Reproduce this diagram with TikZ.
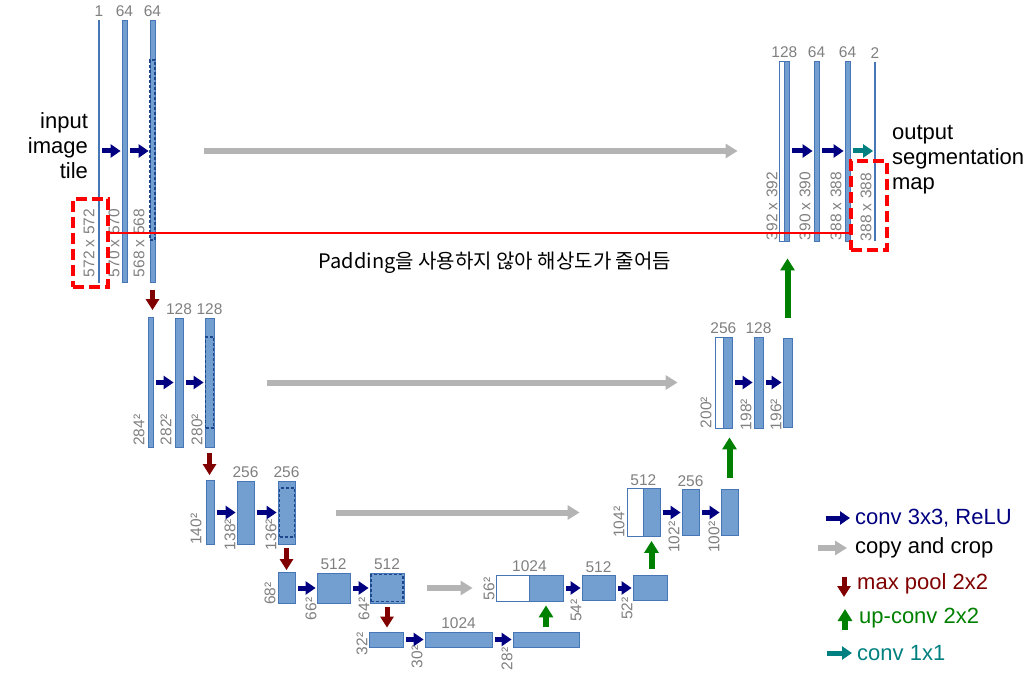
\documentclass[tikz,border=0pt]{standalone}
\usepackage{fontspec}
\setmainfont{Liberation Sans}
\newfontfamily\krfont{Noto Sans CJK KR}
\usetikzlibrary{positioning, arrows.meta}
\definecolor{barfill}{RGB}{114,159,207}
\definecolor{barline}{RGB}{70,118,182}
\definecolor{cropline}{RGB}{30,70,140}
\definecolor{numgray}{RGB}{128,128,128}
\definecolor{convblue}{RGB}{0,0,128}
\definecolor{copygray}{RGB}{180,180,180}
\definecolor{poolred}{RGB}{128,0,0}
\definecolor{upgreen}{RGB}{0,128,0}
\definecolor{finalteal}{RGB}{0,128,128}
\tikzset{
	fmap/.style 2 args={
		rectangle,
		draw=barline,
		fill=barfill,
		line width=0.8pt,
		inner sep=0pt,
		minimum width=#1,
		minimum height=#2,
	},
	fmapcopy/.style 2 args={
		fmap={#1}{#2},
		fill=white,
	},
	cropbox/.style 2 args={
		rectangle,
		draw=cropline,
		dash pattern=on 3pt off 2pt,
		line width=1.5pt,
		inner sep=0pt,
		minimum width=#1,
		minimum height=#2,
	},
	numlabel/.style={
		text=numgray,
		inner sep=1pt,
		font=\fontsize{15.5}{18}\selectfont,
	},
	dimlabel/.style={
		text=numgray,
		rotate=90,
		anchor=south west,
		inner sep=0pt,
		font=\fontsize{15.5}{18}\selectfont,
	},
	caption/.style={
		inner sep=0pt,
		font=\fontsize{22}{25}\selectfont,
	},
	legend/.style={
		anchor=west,
		inner sep=0pt,
		font=\fontsize{22}{25}\selectfont,
	},
	conv/.style={
		draw=convblue,
		line width=5pt,
		-{Triangle[length=10pt,width=13pt]},
		shorten <=2.5pt,
		shorten >=1pt,
	},
	conv1/.style={
		conv,
		draw=finalteal,
	},
	copycrop/.style={
		draw=copygray,
		line width=6pt,
		-{Triangle[length=12pt,width=14pt]},
	},
	pool/.style={
		draw=poolred,
		line width=5pt,
		-{Triangle[length=11pt,width=13pt]},
	},
	upconv/.style={
		draw=upgreen,
		line width=6pt,
		-{Triangle[length=12pt,width=14pt]},
	},
	padbox/.style={
		rectangle,
		draw=red,
		line width=3.5pt,
		dash pattern=on 11pt off 5pt,
		inner sep=0pt,
	},
	padline/.style={
		draw=red,
		line width=2.5pt,
	},
}
\begin{document}
\begin{tikzpicture}[x=1pt, y=-1pt]
		\useasboundingbox (0,0) rectangle (1036,682);
		% Contracting path
		\node[fmap={1}{262}] (e11) at (99,151) {};
		\node[fmap={5}{262}] (e12) at (124.5,151) {};
		\node[fmap={5}{262}] (e13) at (152.5,151) {};
		\node[cropbox={5}{180}] (c13) at (152.5,150) {};
		
		\node[fmap={5}{130}] (e21) at (150.5,382.5) {};
		\node[fmap={8}{129}] (e22) at (179,382.5) {};
		\node[fmap={9}{129}] (e23) at (209.5,382.5) {};
		\node[cropbox={8}{91}] (c23) at (209.5,382.5) {};
		
		\node[fmap={8}{64}] (e31) at (210,512.5) {};
		\node[fmap={17}{63}] (e32) at (245.5,512.5) {};
		\node[fmap={17}{63}] (e33) at (286.5,512.5) {};
		\node[cropbox={15}{49}] (c33) at (287,512.5) {};
		
		\node[fmap={17}{31}] (e41) at (286.5,588) {};
		\node[fmap={33}{30}] (e42) at (333.5,588) {};
		\node[fmap={34}{30}] (e43) at (387,588) {};
		\node[cropbox={32}{27}] (c43) at (387,588) {};
		
		\node[fmap={34}{15}] (e51) at (386,639.5) {};
		\node[fmap={67}{15}] (e52) at (458.5,639.5) {};
		\node[fmap={66}{15}] (e53) at (546,639.5) {};
		
		% Expansive path
		\node[fmapcopy={33}{26}] (d41w) at (512.5,588) {};
		\node[fmap={34}{26}] (d41) at (546,588) {};
		\node[fmap={33}{25}] (d42) at (598.5,588) {};
		\node[fmap={34}{25}] (d43) at (650,588) {};
		
		\node[fmapcopy={16}{48}] (d31w) at (635,512.5) {};
		\node[fmap={17}{48}] (d31) at (651.5,512.5) {};
		\node[fmap={17}{46}] (d32) at (690.5,512.5) {};
		\node[fmap={17}{46}] (d33) at (729.5,512.5) {};
		
		\node[fmapcopy={8}{91}] (d21w) at (719,382.5) {};
		\node[fmap={9}{91}] (d21) at (727.5,382.5) {};
		\node[fmap={9}{91}] (d22) at (758.5,382.5) {};
		\node[fmap={9}{89}] (d23) at (787.5,382.5) {};
		
		\node[fmapcopy={5}{180}] (d11w) at (781.5,151) {};
		\node[fmap={5}{180}] (d11) at (786.5,151) {};
		\node[fmap={5}{180}] (d12) at (816.5,151) {};
		\node[fmap={5}{180}] (d13) at (847.5,151) {};
		\node[fmap={1}{178}] (d14) at (875,151) {};
		
		% Channel numbers
		\node[numlabel, above=1.5pt of e11] {1};
		\node[numlabel, above=1.5pt of e12] {64};
		\node[numlabel, above=1.5pt of e13] {64};
		\node[numlabel, above=1.5pt of e22] {128};
		\node[numlabel, above=1.5pt of e23] {128};
		\node[numlabel, above=1.5pt of e32] {256};
		\node[numlabel, above=1.5pt of e33] {256};
		\node[numlabel, above=1.5pt of e42] {512};
		\node[numlabel, above=1.5pt of e43] {512};
		\node[numlabel, above=1.5pt of e52] {1024};
		\node[numlabel, above=1.5pt of d41w.north east] {1024};
		\node[numlabel, above=1.5pt of d42] {512};
		\node[numlabel, above=1.5pt of d31w.north east] {512};
		\node[numlabel, above=1.5pt of d32] {256};
		\node[numlabel, above=1.5pt of d21w.north east] {256};
		\node[numlabel, above=1.5pt of d22] {128};
		\node[numlabel, above=1.5pt of d11w.north east] {128};
		\node[numlabel, above=1.5pt of d12] {64};
		\node[numlabel, above=1.5pt of d13] {64};
		\node[numlabel, above=1.5pt of d14] {2};
		
		% Sizes
		\node[dimlabel] at ([shift={(-3.5,-5)}]e11.south west) {572 x 572};
		\node[dimlabel] at ([shift={(-2,-5)}]e12.south west) {570 x 570};
		\node[dimlabel] at ([shift={(-5,-5)}]e13.south west) {568 x 568};
		\node[dimlabel] at ([shift={(-3,-2)}]e21.south west) {284²};
		\node[dimlabel] at ([shift={(-3,-2)}]e22.south west) {282²};
		\node[dimlabel] at ([shift={(-2,-2)}]e23.south west) {280²};
		\node[dimlabel] at ([shift={(-4,0)}]e31.south west) {140²};
		\node[dimlabel] at ([shift={(-1,6)}]e32.south west) {138²};
		\node[dimlabel] at ([shift={(-1,6)}]e33.south west) {136²};
		\node[dimlabel] at ([shift={(-2,1)}]e41.south west) {68²};
		\node[dimlabel] at ([shift={(0,17)}]e42.south west) {66²};
		\node[dimlabel] at ([shift={(0,17)}]e43.south west) {64²};
		\node[dimlabel] at ([shift={(-1,8)}]e51.south west) {32²};
		\node[dimlabel] at ([shift={(-2,21)}]e52.south west) {30²};
		\node[dimlabel] at ([shift={(0,23)}]e53.south west) {28²};
		\node[dimlabel] at ([shift={(-1,-1)}]d41w.south west) {56²};
		\node[dimlabel] at ([shift={(0,21)}]d42.south west) {54²};
		\node[dimlabel] at ([shift={(0,19)}]d43.south west) {52²};
		\node[dimlabel] at ([shift={(-2,1)}]d31w.south west) {104²};
		\node[dimlabel] at ([shift={(-2,17)}]d32.south west) {102²};
		\node[dimlabel] at ([shift={(-1,17)}]d33.south west) {100²};
		\node[dimlabel] at ([shift={(-3,0)}]d21w.south west) {200²};
		\node[dimlabel] at ([shift={(-2,2)}]d22.south west) {198²};
		\node[dimlabel] at ([shift={(-1,3)}]d23.south west) {196²};
		\node[dimlabel] at ([shift={(-1,-1)}]d11w.south west) {392 x 392};
		\node[dimlabel] at ([shift={(-3,-1)}]d12.south west) {390 x 390};
		\node[dimlabel] at ([shift={(-3,-1)}]d13.south west) {388 x 388};
		\node[dimlabel] at ([shift={(-2.5,1)}]d14.south west) {388 x 388};
		
		\node[caption, align=right, anchor=east] (input) at ([xshift=-10pt, yshift=5pt]e11.west) {input\\image\\tile};
		\node[caption, align=left, anchor=west] (output) at ([xshift=16pt, yshift=-9pt]d14.east) {output\\segmentation\\map};
		
		% Convolutions
		\draw[conv] (e11) to (e12);
		\draw[conv] (e12) to (e13);
		\draw[conv] (e21) to (e22);
		\draw[conv] (e22) to (e23);
		\draw[conv] (e31) to (e32);
		\draw[conv] (e32) to (e33);
		\draw[conv] (e41) to (e42);
		\draw[conv] (e42) to (e43);
		\draw[conv] (e51) to (e52);
		\draw[conv] (e52) to (e53);
		\draw[conv] (d41) to (d42);
		\draw[conv] (d42) to (d43);
		\draw[conv] (d31) to (d32);
		\draw[conv] (d32) to (d33);
		\draw[conv] (d21) to (d22);
		\draw[conv] (d22) to (d23);
		\draw[conv] (d11) to (d12);
		\draw[conv] (d12) to (d13);
		\draw[conv1] (d13) to (d14);
		
		% Copy and crop
		\draw[copycrop, shorten <=49pt, shorten >=41pt] (e13) to (d11w);
		\draw[copycrop, shorten <=53pt, shorten >=37pt] (e23) to (d21w);
		\draw[copycrop, shorten <=41pt, shorten >=47pt] (e33) to (d31w);
		\draw[copycrop, shorten <=23pt, shorten >=23pt] (e43) to (d41w);
		
		% Max pooling
		\draw[pool, shorten <=8pt, shorten >=7pt] (e13.south) to (e13.south |- e21.north);
		\draw[pool, shorten <=6pt, shorten >=5pt] (e23.south) to (e23.south |- e31.north);
		\draw[pool, shorten <=4pt, shorten >=2pt] (e33.south) to (e33.south |- e41.north);
		\draw[pool, shorten <=4pt, shorten >=4pt] (e43.south) to (e43.south |- e51.north);
		
		% Up-convolutions
		\draw[upconv, shorten <=5pt, shorten >=4pt] (e53.north) to (e53.north |- d41.south);
		\draw[upconv, shorten <=6pt, shorten >=4pt] (d43.north -| d31) to (d31.south);
		\draw[upconv, shorten <=11pt, shorten >=9pt] (d33.north) to (d33.north |- d21.south);
		\draw[upconv, shorten <=20pt, shorten >=17pt] (d23.north) to (d23.north |- d11.south);
		
		% Legend
		\node[legend, text=convblue] (lconv) at (855,518) {conv 3x3, ReLU};
		\node[legend] (lcopy) at (855,548) {copy and crop};
		\node[legend, text=poolred] (lpool) at (857,584) {max pool 2x2};
		\node[legend, text=upgreen] (lup) at (859,618) {up-conv 2x2};
		\node[legend, text=finalteal] (lfin) at (857,653) {conv 1x1};
		\draw[conv] ([xshift=-32pt]lconv.west) to ([xshift=-4pt]lconv.west);
		\draw[copycrop] ([xshift=-37pt]lcopy.west) to ([xshift=-8pt]lcopy.west);
		\draw[pool] ([xshift=-13pt, yshift=7pt]lpool.west) to ([xshift=-13pt, yshift=-13pt]lpool.west);
		\draw[upconv] ([xshift=-14pt, yshift=-12pt]lup.west) to ([xshift=-14pt, yshift=9pt]lup.west);
		\draw[conv1] ([xshift=-33pt]lfin.west) to ([xshift=-4pt]lfin.west);
		
		% Padding note
		\node[padbox, minimum width=35, minimum height=88] (pad1) at (90.5,243) {};
		\node[padbox, minimum width=36, minimum height=89] (pad2) at (869,205.5) {};
		\draw[padline] ([yshift=10pt]pad1.east) to ([yshift=10pt]pad1.east -| pad2.west);
		\node[font=\krfont\fontsize{20}{22}\selectfont] (note) at (495,263) {Padding을 사용하지 않아 해상도가 줄어듬};
	\end{tikzpicture}
\end{document}
